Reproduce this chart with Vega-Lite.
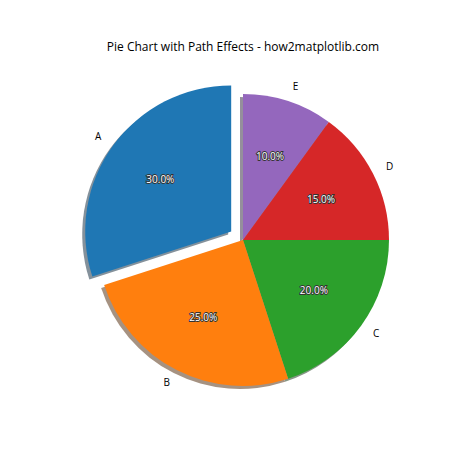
{
  "$schema": "https://vega.github.io/schema/vega-lite/v6.json",
  "autosize": "none",
  "width": 462,
  "height": 468,
  "padding": {"left": 12, "top": 6, "right": 0, "bottom": 0},
  "background": "white",
  "title": {
    "text": "Pie Chart with Path Effects - how2matplotlib.com",
    "offset": -48,
    "fontSize": 12,
    "fontWeight": "normal",
    "font": "Open Sans",
    "color": "#000",
    "anchor": "middle"
  },
  "data": {
    "values": [
      {"cat": "E", "value": 10, "pct": "10.0%", "ord": 1},
      {"cat": "D", "value": 15, "pct": "15.0%", "ord": 2},
      {"cat": "C", "value": 20, "pct": "20.0%", "ord": 3},
      {"cat": "B", "value": 25, "pct": "25.0%", "ord": 4},
      {"cat": "A", "value": 30, "pct": "30.0%", "ord": 5}
    ]
  },
  "encoding": {
    "theta": {"field": "value", "type": "quantitative", "stack": true},
    "order": {"field": "ord", "sort": "ascending"}
  },
  "layer": [
    {
      "mark": {
        "type": "arc",
        "outerRadius": 146,
        "xOffset": {"expr": "datum.cat == 'A' ? -14.8 : -3"},
        "yOffset": {"expr": "datum.cat == 'A' ? -5.6 : 3"}
      },
      "encoding": {
        "color": {
          "field": "cat",
          "type": "nominal",
          "scale": {"domain": ["A", "B", "C", "D", "E"], "range": ["#84919b", "#a69281", "#869786", "#9f8585", "#958f9c"]},
          "legend": null
        }
      }
    },
    {
      "mark": {
        "type": "arc",
        "outerRadius": 146,
        "xOffset": {"expr": "datum.cat == 'A' ? -11.8 : 0"},
        "yOffset": {"expr": "datum.cat == 'A' ? -8.6 : 0"}
      },
      "encoding": {
        "fill": {
          "field": "cat",
          "type": "nominal",
          "scale": {"domain": ["A", "B", "C", "D", "E"], "range": ["#1f77b4", "#ff7f0e", "#2ca02c", "#d62728", "#9467bd"]},
          "legend": null
        }
      }
    },
    {
      "mark": {
        "type": "text",
        "radius": 160.6,
        "fontSize": 10,
        "font": "Open Sans",
        "fill": "#000",
        "align": {"expr": "datum.cat == 'A' || datum.cat == 'B' ? 'right' : 'left'"},
        "baseline": "middle",
        "xOffset": {"expr": "datum.cat == 'A' ? -11.8 : 0"},
        "yOffset": {"expr": "datum.cat == 'A' ? -8.6 : 0"}
      },
      "encoding": {"text": {"field": "cat", "type": "nominal"}}
    },
    {
      "mark": {
        "type": "text",
        "radius": 87.6,
        "fontSize": 10,
        "font": "Open Sans",
        "fill": "#333",
        "stroke": "#333",
        "strokeWidth": 1.8,
        "baseline": "middle",
        "xOffset": {"expr": "datum.cat == 'A' ? -11.8 : 0"},
        "yOffset": {"expr": "datum.cat == 'A' ? -8.6 : 0"}
      },
      "encoding": {"text": {"field": "pct", "type": "nominal"}}
    },
    {
      "mark": {
        "type": "text",
        "radius": 87.6,
        "fontSize": 10,
        "font": "Open Sans",
        "fill": "white",
        "baseline": "middle",
        "xOffset": {"expr": "datum.cat == 'A' ? -11.8 : 0"},
        "yOffset": {"expr": "datum.cat == 'A' ? -8.6 : 0"}
      },
      "encoding": {"text": {"field": "pct", "type": "nominal"}}
    }
  ],
  "view": {"stroke": null}
}
